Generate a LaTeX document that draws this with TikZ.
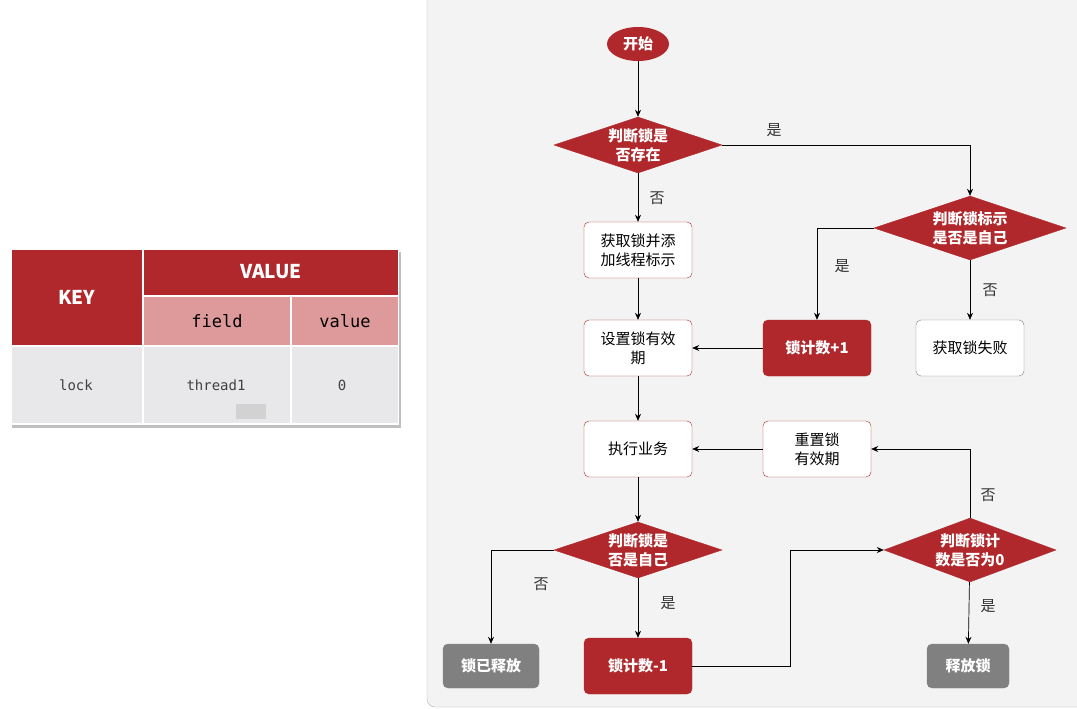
\documentclass[tikz,border=0pt]{standalone}
\usepackage{fontspec}
\setmainfont{Noto Sans CJK SC}
\newfontfamily\monof{DejaVu Sans Mono}
\usetikzlibrary{shapes.geometric,arrows.meta,shadows}
\definecolor{dred}{HTML}{B0282B}
\definecolor{lred}{HTML}{DE9A9A}
\definecolor{gcell}{HTML}{E8E8EA}
\definecolor{panel}{HTML}{F3F3F3}
\definecolor{gbox}{HTML}{808080}
\begin{document}
\begin{tikzpicture}[x=1pt,y=-1pt,font=\fontsize{15}{19}\selectfont,
 box/.style={draw=dred,fill=white,rounded corners=5,minimum width=108,minimum height=56,inner sep=1pt,align=center,text=black},
 rbox/.style={box,fill=dred,text=white,font=\fontsize{15}{19}\selectfont\bfseries},
 gb/.style={draw=gbox,fill=gbox,rounded corners=5,minimum height=44,text=white,font=\fontsize{15}{19}\selectfont\bfseries},
 dia/.style={diamond,aspect=3,fill=dred,draw=dred,inner sep=0pt,text=white,align=center,font=\fontsize{15}{19}\selectfont\bfseries},
 ar/.style={-{Stealth[length=7,width=6]},black,line width=0.7},
 lb/.style={text=black!80,font=\fontsize{15}{19}\selectfont}]
\useasboundingbox (0,0) rectangle (1077,709);
% table
\fill[gray!50] (12,252) rectangle (401,428);
\fill[white] (9,248) rectangle (399,425);
\fill[dred] (12,250) rectangle (142,345);
\fill[dred] (144,250) rectangle (398,295);
\fill[lred] (144,297) rectangle (290,345);
\fill[lred] (292,297) rectangle (398,345);
\fill[gcell] (12,347) rectangle (142,423);
\fill[gcell] (144,347) rectangle (290,423);
\fill[gcell] (292,347) rectangle (398,423);
\fill[gray!35] (236,404) rectangle (266,419);
\node[text=white,font=\fontsize{19}{22}\selectfont\bfseries] (kkey) at (77,297) {KEY};
\node[text=white,font=\fontsize{19}{22}\selectfont\bfseries] (kval) at (271,272) {VALUE};
\node[font=\fontsize{17}{20}\selectfont\monof] (kf) at (217,321) {field};
\node[font=\fontsize{17}{20}\selectfont\monof] (kv) at (345,321) {value};
\node[font=\fontsize{14}{17}\selectfont\monof,text=black!75] (kl) at (76,385) {lock};
\node[font=\fontsize{14}{17}\selectfont\monof,text=black!75] (kt) at (216,385) {thread1};
\node[font=\fontsize{14}{17}\selectfont\monof,text=black!75] (k0) at (342,385) {0};
% panel
\draw[gray!60,fill=panel,rounded corners=8] (427,-10) rectangle (1090,707);
% nodes
\node[ellipse,fill=dred,minimum width=62,minimum height=34,inner sep=0pt,text=white,font=\fontsize{15}{19}\selectfont\bfseries] (st) at (638,44) {开始};
\node[dia,minimum width=168,minimum height=56] (d1) at (638,145) {判断锁是\\否存在};
\node[dia,minimum width=192,minimum height=64] (d2) at (970,228) {判断锁标示\\是否是自己};
\node[box] (b1) at (638,250) {获取锁并添\\加线程标示};
\node[box] (b2) at (638,348) {设置锁有效\\期};
\node[rbox] (b3) at (817,348) {锁计数+1};
\node[box,draw=gray] (b4) at (970,348) {获取锁失败};
\node[box] (b5) at (638,449) {执行业务};
\node[box] (b6) at (817,449) {重置锁\\有效期};
\node[dia,minimum width=168,minimum height=56] (d3) at (638,550) {判断锁是\\否是自己};
\node[dia,minimum width=172,minimum height=64] (d4) at (970,550) {判断锁计\\数是否为0};
\node[gb,minimum width=96] (b7) at (491,666) {锁已释放};
\node[rbox] (b8) at (638,666) {锁计数-1};
\node[gb,minimum width=82] (b9) at (968,666) {释放锁};
% edges
\draw[ar] (st) -- (d1);
\draw[ar] (d1) -- (b1);
\draw[ar] (d1.east) -| (d2.north);
\draw[ar] (d2) -- (b4);
\draw[ar] (d2.west) -| (b3.north);
\draw[ar] (b3) -- (b2);
\draw[ar] (b1) -- (b2);
\draw[ar] (b2) -- (b5);
\draw[ar] (b6) -- (b5);
\draw[ar] (d4.north) |- (b6.east);
\draw[ar] (b5) -- (d3);
\draw[ar] (d3) -- (b8);
\draw[ar] (d3.west) -| (b7.north);
\coordinate (m) at (790,666);
\draw[ar] (b8.east) -- (m) |- (d4.west);
\draw[ar] (d4) -- (b9);
% labels
\node[lb] (l1) at (657,198) {否};
\node[lb] (l2) at (774,130) {是};
\node[lb] (l3) at (990,290) {否};
\node[lb] (l4) at (842,266) {是};
\node[lb] (l5) at (988,495) {否};
\node[lb] (l6) at (668,603) {是};
\node[lb] (l7) at (541,584) {否};
\node[lb] (l8) at (988,606) {是};
\end{tikzpicture}
\end{document}
